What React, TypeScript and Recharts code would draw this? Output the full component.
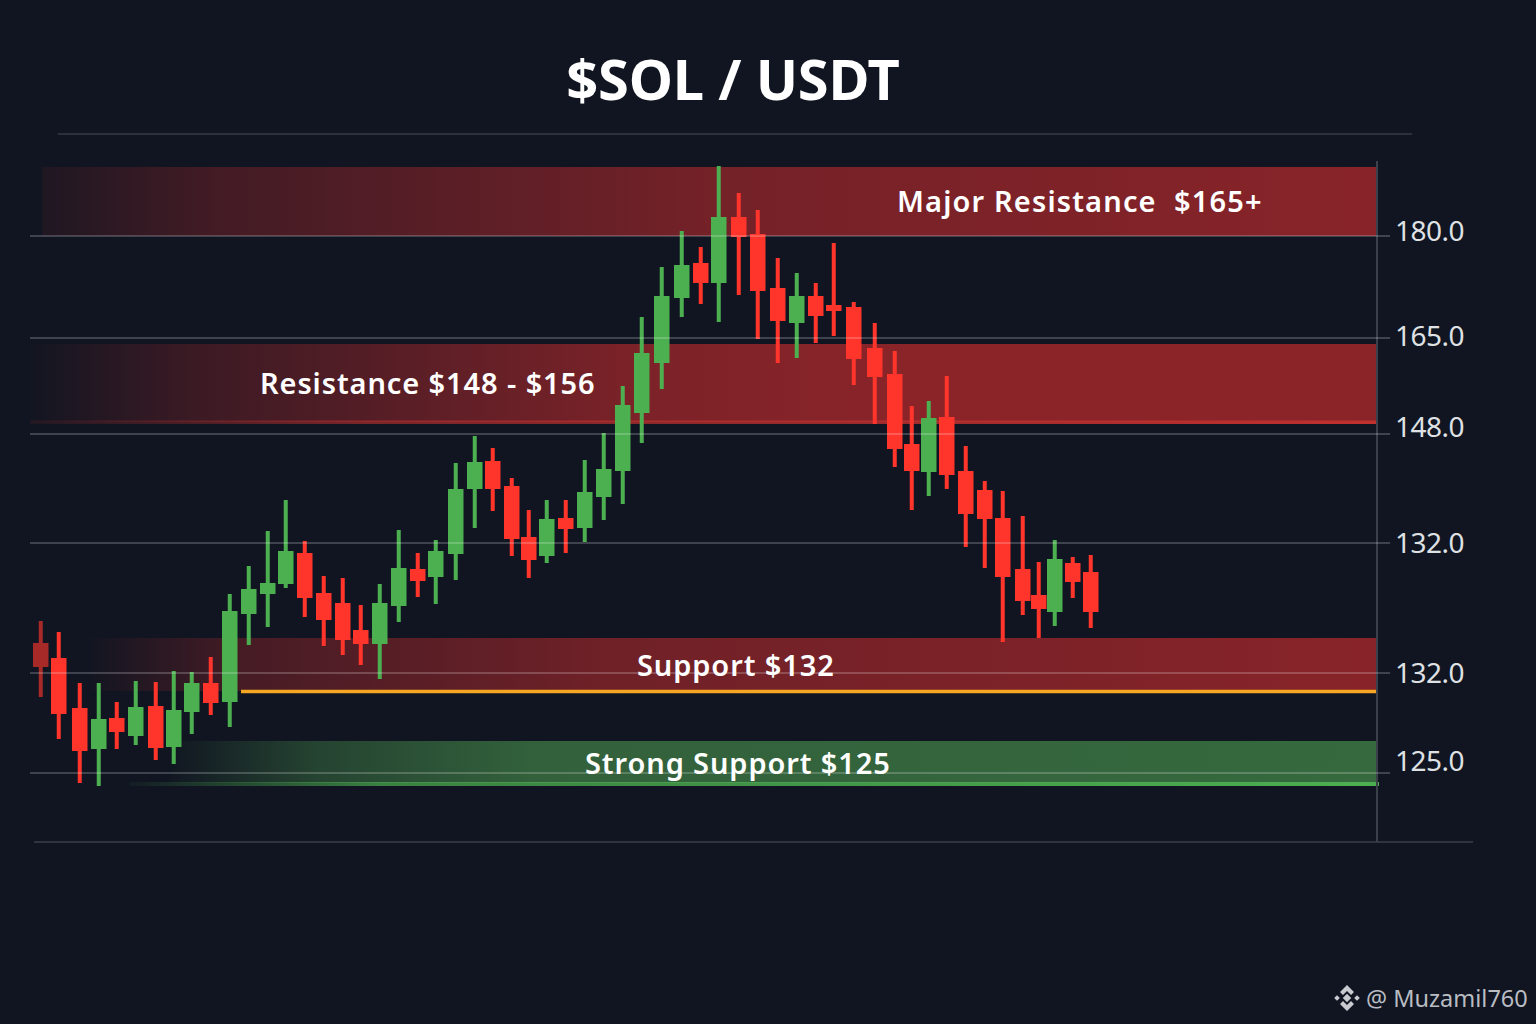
import React from "react";
import { ComposedChart, Bar, XAxis, YAxis, ReferenceArea, ReferenceLine, Label } from "recharts";

const times = [41,59,80,99,117,136,156,174,192,211,230,249,268,286,305,324,343,361,380,399,418,436,456,475,493,512,529,547,566,585,604,623,642,662,682,701,719,739,758,778,797,816,834,854,875,895,912,929,947,966,985,1003,1023,1039,1055,1073,1091];
const opens = [139.3,137.8,132.8,128.7,131.8,130.0,133.0,128.9,132.4,135.3,133.4,142.2,144.2,145.2,148.3,144.3,143.3,140.6,139.2,143.0,146.7,145.9,148.2,154.7,157.5,155.0,149.9,148.0,151.8,150.8,153.9,156.5,162.3,167.3,173.8,177.3,175.3,181.9,180.2,174.8,171.3,174.0,173.1,172.9,168.8,166.2,159.2,156.4,161.9,156.5,154.6,151.8,146.7,144.1,142.4,147.3,146.4];
const closes = [136.9,132.2,128.5,131.7,130.4,132.9,128.8,132.6,135.3,133.3,142.5,144.7,145.3,148.5,143.8,141.6,139.6,139.2,143.3,146.8,145.5,148.5,154.7,157.4,154.7,149.7,147.6,151.7,150.7,154.4,156.7,163.1,168.3,174.0,177.1,175.3,181.9,179.9,174.5,171.5,174.0,172.0,172.5,167.7,165.9,158.7,156.5,161.8,156.1,152.2,151.7,145.9,143.5,142.7,147.7,145.4,142.4];
const highs = [141.5,140.4,135.3,135.3,133.4,135.5,135.4,136.5,136.4,137.9,144.2,147.0,150.5,153.6,149.5,146.0,145.8,143.1,145.2,150.6,148.3,149.6,157.3,160.0,158.8,155.8,152.6,153.6,153.6,157.6,160.3,165.0,171.9,176.9,180.5,178.9,187.0,184.3,182.6,177.8,176.3,175.3,179.3,173.4,171.3,168.5,163.0,163.5,166.0,159.0,155.5,154.5,152.0,147.4,149.6,147.9,148.1];
const lows = [133.9,129.7,125.3,125.0,128.7,129.1,127.6,127.2,130.2,132.1,130.9,139.1,140.9,144.8,141.9,139.0,138.1,137.1,135.7,141.4,143.9,143.2,145.6,150.8,152.5,148.0,145.8,147.3,148.3,149.4,151.6,153.2,159.3,164.7,171.9,173.2,171.4,174.1,169.7,167.3,167.8,169.3,170.0,165.1,161.2,156.9,152.6,154.0,154.7,148.9,146.8,139.4,142.1,139.8,141.0,143.8,140.8];

const tickValues = [180.6, 170.1, 161.0, 149.4, 136.4, 127.6];
const tickLabels = ["180.0", "165.0", "148.0", "132.0", "132.0", "125.0"];

const gridLevels = [180, 169.8, 160.2, 149.3, 136.3, 126.3];

const data = times.map((t, i) => ({ t, open: opens[i], close: closes[i], high: highs[i], low: lows[i], muted: i === 0 }));

const GREEN = "#4caf50";
const RED = "#ff342b";

function Candle(props: any) {
  const { x, y, width, height, payload } = props;
  const cx = x + width / 2;
  const span = payload.high - payload.low;
  const py = (p: number) => y + ((payload.high - p) / span) * height;
  const top = py(Math.max(payload.open, payload.close));
  const bot = py(Math.min(payload.open, payload.close));
  const color = payload.muted ? "#a82a28" : payload.close >= payload.open ? GREEN : RED;
  return (
    <g>
      <rect x={cx - 2} y={y} width={4} height={height} fill={color} />
      <rect x={x} y={top} width={width} height={Math.max(bot - top, 1)} fill={color} />
    </g>
  );
}

function PriceTick(props: any) {
  return (
    <text x={1395} y={props.y} dominantBaseline="central" fill="#dfe1e4" fontSize={28} fontFamily="'Noto Sans'" style={{ letterSpacing: -0.5 }}>
      {tickLabels[props.index]}
    </text>
  );
}

const zoneText = { fill: "#ffffff", fontFamily: "'Noto Sans'", fontWeight: 600, fontSize: 29, letterSpacing: 0.9 } as const;

export default function App() {
  return (
    <div style={{ position: "absolute", left: 0, top: 0, width: 1536, height: 1024, background: "#101521", overflow: "hidden" }}>
      <ComposedChart width={1536} height={1024} data={data} margin={{ top: 0, right: 0, bottom: 0, left: 0 }} barSize={15.5}>
        <defs>
          <linearGradient id="gMajor" x1="0" x2="1" y1="0" y2="0">
            <stop offset="0" stopColor="#8a2429" stopOpacity={0.12} />
            <stop offset="0.12" stopColor="#8a2429" stopOpacity={0.4} />
            <stop offset="0.5" stopColor="#8a2429" stopOpacity={0.82} />
            <stop offset="1" stopColor="#8a2429" stopOpacity={0.98} />
          </linearGradient>
          <linearGradient id="gRes" x1="0" x2="1" y1="0" y2="0">
            <stop offset="0" stopColor="#8a2429" stopOpacity={0.02} />
            <stop offset="0.12" stopColor="#8a2429" stopOpacity={0.35} />
            <stop offset="0.45" stopColor="#8a2429" stopOpacity={0.88} />
            <stop offset="0.65" stopColor="#8a2429" stopOpacity={1} />
            <stop offset="1" stopColor="#8a2429" stopOpacity={1} />
          </linearGradient>
          <linearGradient id="gSup" x1="0" x2="1" y1="0" y2="0">
            <stop offset="0" stopColor="#8a2429" stopOpacity={0.02} />
            <stop offset="0.12" stopColor="#8a2429" stopOpacity={0.45} />
            <stop offset="0.4" stopColor="#8a2429" stopOpacity={0.78} />
            <stop offset="1" stopColor="#8a2429" stopOpacity={0.98} />
          </linearGradient>
          <linearGradient id="gStrong" x1="0" x2="1" y1="0" y2="0">
            <stop offset="0" stopColor="#36693e" stopOpacity={0.02} />
            <stop offset="0.12" stopColor="#36693e" stopOpacity={0.55} />
            <stop offset="0.3" stopColor="#36693e" stopOpacity={0.9} />
            <stop offset="1" stopColor="#36693e" stopOpacity={1} />
          </linearGradient>
          <linearGradient id="gStrongLine" x1="0" x2="1" y1="0" y2="0">
            <stop offset="0" stopColor="#4caf50" stopOpacity={0.05} />
            <stop offset="0.2" stopColor="#4caf50" stopOpacity={0.7} />
            <stop offset="1" stopColor="#4caf50" stopOpacity={1} />
          </linearGradient>
          <linearGradient id="gResLine" x1="0" x2="1" y1="0" y2="0">
            <stop offset="0" stopColor="#c0302f" stopOpacity={0.1} />
            <stop offset="0.25" stopColor="#c0302f" stopOpacity={0.6} />
            <stop offset="1" stopColor="#c0302f" stopOpacity={1} />
          </linearGradient>
        </defs>
        <XAxis type="number" dataKey="t" domain={[0, 1536]} hide />
        <YAxis
          type="number"
          orientation="right"
          mirror
          domain={[101.2, 203.6]}
          ticks={tickValues}
          interval={0}
          axisLine={false}
          tickLine={false}
          tick={PriceTick}
        />

        <ReferenceArea x1={42} x2={1377} y1={186.9} y2={180} fill="url(#gMajor)" fillOpacity={1} stroke="none" ifOverflow="visible">
          <Label value={"Major Resistance\u00A0\u00A0$165+"} position="insideLeft" offset={855} style={{ ...zoneText, letterSpacing: 1.15 }} />
        </ReferenceArea>
        <ReferenceArea x1={30} x2={1377} y1={169.2} y2={161.4} fill="url(#gRes)" fillOpacity={1} stroke="none" ifOverflow="visible">
          <Label value="Resistance $148 - $156" position="insideLeft" offset={230} dy={1} style={zoneText} />
        </ReferenceArea>
        <ReferenceArea x1={90} x2={1377} y1={139.8} y2={134.5} fill="url(#gSup)" fillOpacity={1} stroke="none" ifOverflow="visible">
          <Label value="Support $132" position="insideLeft" offset={547} dy={1} style={zoneText} />
        </ReferenceArea>
        <ReferenceArea x1={170} x2={1377} y1={129.5} y2={125.3} fill="url(#gStrong)" fillOpacity={1} stroke="none" ifOverflow="visible">
          <Label value="Strong Support $125" position="insideLeft" offset={415} dy={2} style={zoneText} />
        </ReferenceArea>

        <ReferenceLine segment={[{ x: 58, y: 190.2 }, { x: 1412, y: 190.2 }]} stroke="#2b303b" strokeWidth={2} ifOverflow="visible" />
        <ReferenceLine segment={[{ x: 34, y: 119.4 }, { x: 1473, y: 119.4 }]} stroke="#2f3440" strokeWidth={2} ifOverflow="visible" />
        <ReferenceLine segment={[{ x: 1377, y: 187.5 }, { x: 1377, y: 119.4 }]} stroke="#3a3f4a" strokeWidth={2} ifOverflow="visible" />
        {gridLevels.map((level) => (
          <ReferenceLine key={level} segment={[{ x: 30, y: level }, { x: 1390, y: level }]} stroke="#ffffff" strokeOpacity={0.2} strokeWidth={2} ifOverflow="visible" />
        ))}

        <ReferenceArea x1={30} x2={1377} y1={161.55} y2={161.2} fill="url(#gResLine)" fillOpacity={1} stroke="none" ifOverflow="visible" />
        <ReferenceLine segment={[{ x: 241, y: 134.45 }, { x: 1376, y: 134.45 }]} stroke="#f5a623" strokeWidth={3.5} ifOverflow="visible" />
        <ReferenceArea x1={130} x2={1379} y1={125.4} y2={125.0} fill="url(#gStrongLine)" fillOpacity={1} stroke="none" ifOverflow="visible" />

        <Bar dataKey={(d: any) => [d.low, d.high]} shape={Candle} isAnimationActive={false} />
      </ComposedChart>

      <div style={{ position: "absolute", left: 0, top: 37, width: 1466, textAlign: "center", color: "#fff", fontFamily: "'Noto Sans'", fontWeight: 700, fontSize: 56, letterSpacing: -0.2, lineHeight: "82px" }}>
        $SOL / USDT
      </div>

      <svg style={{ position: "absolute", left: 1332, top: 984 }} width={30} height={28} viewBox="0 0 30 28">
        <g fill="#c9cbd0">
          <path d="M15 1 L22 8 L19 11 L15 7 L11 11 L8 8 Z" />
          <path d="M15 27 L22 20 L19 17 L15 21 L11 17 L8 20 Z" />
          <rect x="12" y="11" width="6" height="6" transform="rotate(45 15 14)" />
          <rect x="3" y="12" width="4" height="4" transform="rotate(45 5 14)" />
          <rect x="23" y="12" width="4" height="4" transform="rotate(45 25 14)" />
        </g>
      </svg>
      <div style={{ position: "absolute", left: 1366, top: 982, color: "#b9bcc2", fontFamily: "'Noto Sans'", fontSize: 23.5, lineHeight: "32px", whiteSpace: "nowrap" }}>
        @ Muzamil760
      </div>
    </div>
  );
}
